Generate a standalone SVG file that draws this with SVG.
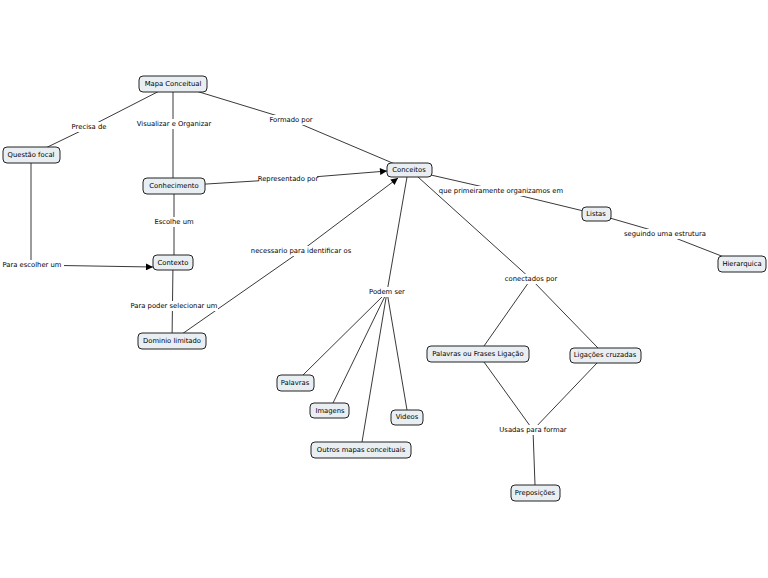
<svg xmlns="http://www.w3.org/2000/svg" width="768" height="578" viewBox="0 0 768 578">
<style>
text{font-family:"DejaVu Sans","Liberation Sans",sans-serif;font-size:6.8px;fill:#000;text-anchor:middle;dominant-baseline:central}
.n rect{fill:#e9eef2;stroke:#222;stroke-width:1;rx:4}
.c path{fill:none;stroke:#222;stroke-width:0.9}
.l rect{fill:#fff}
</style>
<defs><marker id="a" viewBox="0 0 10 10" refX="10" refY="5" markerWidth="8" markerHeight="7" orient="auto" markerUnits="userSpaceOnUse"><path d="M0,0L10,5L0,10z" fill="#000"/></marker></defs>
<rect width="768" height="578" fill="#fff"/>
<g class="c">
<path d="M173,84L89,127L31,155"/>
<path d="M173,84L173,186"/>
<path d="M173,84L291,120L409,170"/>
<path d="M174,186L288,179L387,171" marker-end="url(#a)"/>
<path d="M174,186L174,263"/>
<path d="M31,163L31,265L153,267" marker-end="url(#a)"/>
<path d="M173,263L172,341"/>
<path d="M172,341L301,251L398,178" marker-end="url(#a)"/>
<path d="M409,170L501,191L596,214"/>
<path d="M596,214L665,234L742,264"/>
<path d="M407,177L387,292"/>
<path d="M387,292L303,375M387,292L333,403M387,292L362,442M387,292L407,410"/>
<path d="M418,177L531,279L484,346M531,279L598,348"/>
<path d="M484,362L533,430L597,363M533,430L535,485"/>
</g>
<g class="l">
<g id="l1"><rect x="71" y="122" width="36" height="10"/><text x="89" y="127">Precisa de</text></g>
<g id="l2"><rect x="136" y="119" width="76" height="10"/><text x="174" y="124">Visualizar e Organizar</text></g>
<g id="l3"><rect x="270" y="115" width="42" height="10"/><text x="291" y="120">Formado por</text></g>
<g id="l4"><rect x="259" y="174" width="58" height="10"/><text x="288" y="179">Representado por</text></g>
<g id="l5"><rect x="155" y="217" width="38" height="10"/><text x="174" y="222">Escolhe um</text></g>
<g id="l6"><rect x="0" y="260" width="64" height="10"/><text x="32" y="265">Para escolher um</text></g>
<g id="l7"><rect x="253" y="246" width="96" height="10"/><text x="301" y="251">necessario para identificar os</text></g>
<g id="l8"><rect x="130" y="301" width="88" height="10"/><text x="174" y="306">Para poder selecionar um</text></g>
<g id="l9"><rect x="441" y="186" width="120" height="10"/><text x="501" y="191">que primeiramente organizamos em</text></g>
<g id="l10"><rect x="627" y="229" width="76" height="10"/><text x="665" y="234">seguindo uma estrutura</text></g>
<g id="l11"><rect x="369" y="287" width="36" height="10"/><text x="387" y="292">Podem ser</text></g>
<g id="l12"><rect x="506" y="274" width="50" height="10"/><text x="531" y="279">conectados por</text></g>
<g id="l13"><rect x="501" y="425" width="64" height="10"/><text x="533" y="430">Usadas para formar</text></g>
</g>
<g class="n">
<g id="mapa"><rect x="139" y="76" width="68" height="16"/><text x="173" y="84">Mapa Conceitual</text></g>
<g id="questao"><rect x="3" y="147" width="57" height="16"/><text x="31" y="155">Questão focal</text></g>
<g id="conhecimento"><rect x="143" y="178" width="62" height="16"/><text x="174" y="186">Conhecimento</text></g>
<g id="contexto"><rect x="153" y="255" width="40" height="15"/><text x="173" y="263">Contexto</text></g>
<g id="dominio"><rect x="138" y="333" width="68" height="16"/><text x="172" y="341">Dominio limitado</text></g>
<g id="conceitos"><rect x="387" y="163" width="45" height="14"/><text x="409" y="170">Conceitos</text></g>
<g id="listas"><rect x="582" y="207" width="29" height="14"/><text x="596" y="214">Listas</text></g>
<g id="hierarquica"><rect x="718" y="256" width="48" height="16"/><text x="742" y="264">Hierarquica</text></g>
<g id="palavrasfrases"><rect x="427" y="346" width="102" height="16"/><text x="478" y="354">Palavras ou Frases Ligação</text></g>
<g id="ligacoes"><rect x="570" y="348" width="71" height="15"/><text x="605" y="355">Ligações cruzadas</text></g>
<g id="palavras"><rect x="277" y="375" width="37" height="16"/><text x="295" y="383">Palavras</text></g>
<g id="imagens"><rect x="310" y="403" width="39" height="15"/><text x="330" y="411">Imagens</text></g>
<g id="videos"><rect x="391" y="410" width="32" height="15"/><text x="407" y="417">Videos</text></g>
<g id="outros"><rect x="311" y="442" width="100" height="16"/><text x="361" y="450">Outros mapas conceituais</text></g>
<g id="preposicoes"><rect x="511" y="485" width="49" height="16"/><text x="535" y="493">Preposições</text></g>
</g>
</svg>
